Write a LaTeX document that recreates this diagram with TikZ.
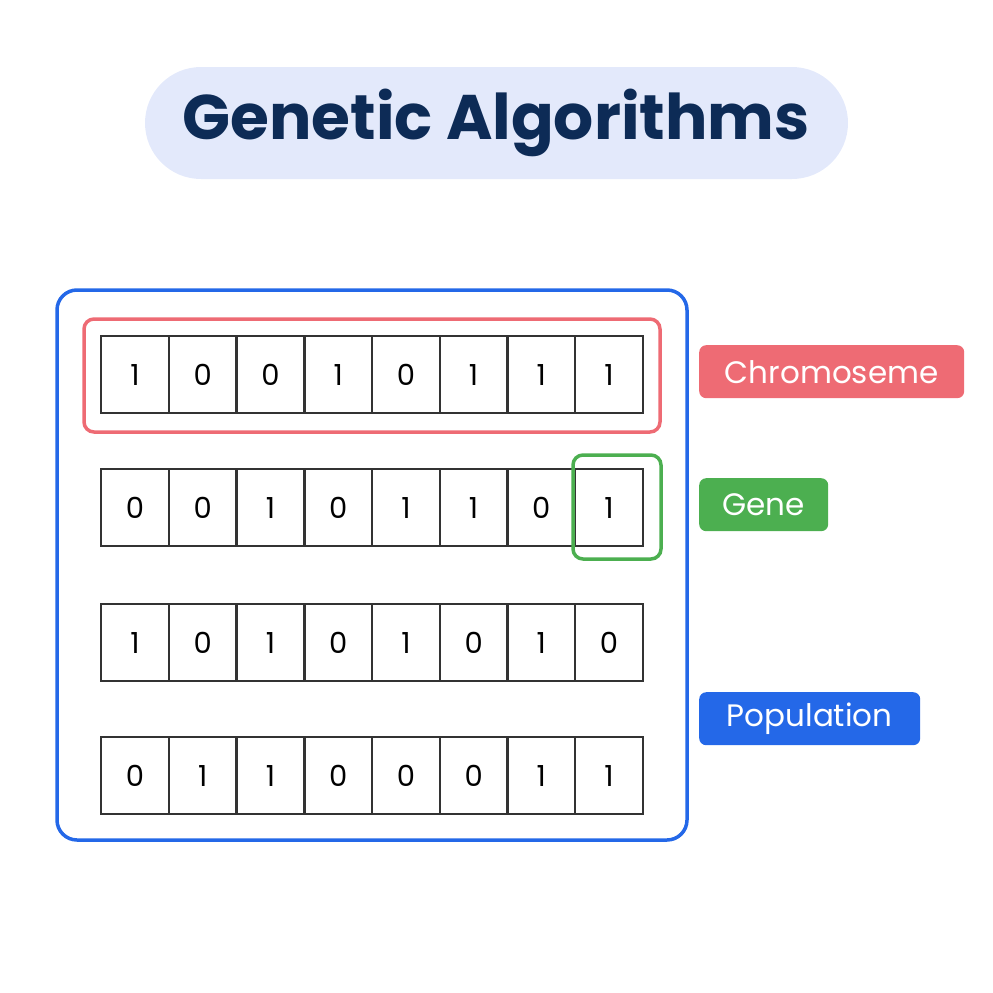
\documentclass[tikz,border=0pt]{standalone}
\usepackage{fontspec}
\setmainfont{Poppins}
\definecolor{navy}{HTML}{0D2B56}
\definecolor{pill}{HTML}{E3E9FB}
\definecolor{bl}{HTML}{2468E8}
\definecolor{rd}{HTML}{EE6B74}
\definecolor{gr}{HTML}{4CAF50}
\begin{document}
\begin{tikzpicture}[x=1pt,y=-1pt,
 cell/.style={draw=black!80,line width=2.2pt,minimum width=68pt,minimum height=77pt,inner sep=0pt,font=\fontsize{29}{29}\selectfont,anchor=north west},
 lab/.style={rounded corners=7pt,text=white,font=\fontsize{31}{31}\selectfont,anchor=north west,inner sep=0pt,minimum height=53pt}]
\useasboundingbox (0,0) rectangle (993,993);
\fill[pill,rounded corners=56pt] (145,67) rectangle (848,179);
\node[text=navy,font=\fontsize{63}{63}\selectfont\bfseries] (title) at (496,123) {Genetic Algorithms};
\draw[bl,line width=3.5pt,rounded corners=20pt] (57,290) rectangle (687,840);
\foreach \r/\y/\bits in {1/335/{1,0,0,1,0,1,1,1},2/468/{0,0,1,0,1,1,0,1},3/603/{1,0,1,0,1,0,1,0},4/736/{0,1,1,0,0,0,1,1}}{
  \foreach \b [count=\i from 0] in \bits {
    \node[cell] (c\r\i) at ({100+\i*67.7},\y) {\b};
  }
}
\draw[rd,line width=3.5pt,rounded corners=10pt] (84,319) rectangle (660,432);
\draw[gr,line width=3.5pt,rounded corners=10pt] (573,455) rectangle (661,559);
\node[lab,fill=rd,minimum width=265pt] (chr) at (699,345) {Chromoseme};
\node[lab,fill=gr,minimum width=129pt] (gene) at (699,478) {Gene};
\node[lab,fill=bl,minimum width=221pt] (pop) at (699,692) {Population};
\end{tikzpicture}
\end{document}
